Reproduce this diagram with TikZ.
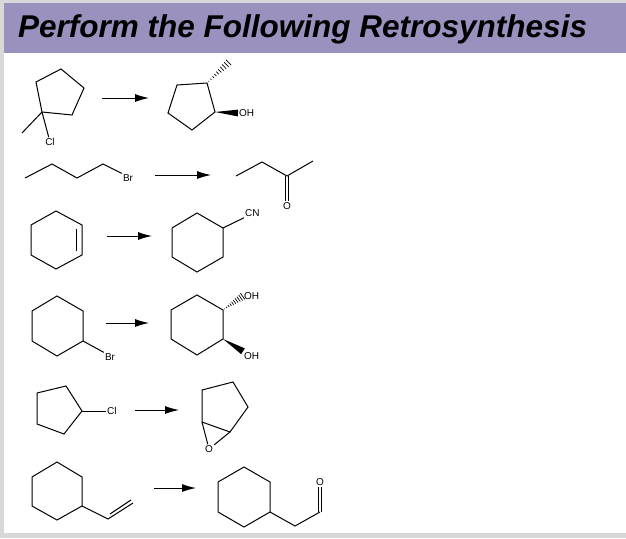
\documentclass[tikz,border=0pt]{standalone}
\usepackage{fontspec}
\setmainfont{Liberation Sans}
\setsansfont{Liberation Sans}
\usetikzlibrary{calc,arrows.meta}
\definecolor{hdr}{HTML}{9A91BF}
\definecolor{bgray}{HTML}{D8D8D8}
\tikzset{
 bond/.style={line width=1pt,line join=miter},
 rxn/.style={line width=1pt,-{Latex[length=14pt,width=8pt]}},
 atom/.style={font=\fontsize{10}{11}\selectfont,inner sep=1pt},
}
\newcommand{\hashb}[2]{\foreach \t in {0.08,0.18,...,1.0}{\draw[line width=0.7pt] ($(#1)!\t!(#2)!{\t*3.8pt}!90:(#2)$) -- ($(#1)!\t!(#2)!{\t*3.8pt}!-90:(#2)$);}}
\newcommand{\wedgeb}[2]{\fill (#1) -- ($(#2)!3.4pt!90:(#1)$) -- ($(#2)!3.4pt!-90:(#1)$) -- cycle;}
\begin{document}
\begin{tikzpicture}[x=1pt,y=-1pt]
\useasboundingbox (0,0) rectangle (626,538);
\fill[bgray] (0,0) rectangle (626,538);
\fill[white] (4,3) rectangle (626,533);
\fill[hdr] (4,3) rectangle (626,53);
\node[anchor=west,inner sep=0] (title) at (18,29) {\fontsize{31.5}{34}\selectfont\bfseries\itshape Perform the Following Retrosynthesis};

% Row 1
\draw[bond] (61,69)--(84,88)--(72,115)--(42,112)--(36,82)--cycle;
\draw[bond] (42,112)--(22,133);
\node[atom] (cl1) at (50,142) {Cl};
\draw[bond] (42,112)--(cl1);
\coordinate (a1s) at (102,98); \coordinate (a1e) at (149,98);
\draw[rxn] (a1s)--(a1e);
\draw[bond] (207,83)--(215,112)--(192,130)--(168,113)--(177,85)--cycle;
\coordinate (me1) at (229,62);
\hashb{207,83}{me1}
\node[atom,anchor=west] (oh1) at (238,113) {OH};
\wedgeb{215,112}{oh1.west}

% Row 2
\node[atom] (br2) at (128,178) {Br};
\draw[bond] (25,178)--(52,164)--(77,178)--(103,164)--(br2.north west);
\draw[rxn] (155,175)--(211,175);
\node[atom] (o2) at (287,206) {O};
\draw[bond] (236,176)--(262,162)--(287,176)--(313,161);
\draw[bond] ([xshift=-1.8pt]287,176)--([xshift=-1.8pt]o2.north);
\draw[bond] ([xshift=1.8pt]287,176)--([xshift=1.8pt]o2.north);

% Row 3
\draw[bond] (56,211)--(82,225)--(82,255)--(56,269)--(31,255)--(31,225)--cycle;
\draw[bond] (76,229)--(76,251);
\draw[rxn] (107,236)--(152,236);
\draw[bond] (197,213)--(223,228)--(223,257)--(197,272)--(172,257)--(172,228)--cycle;
\node[atom,anchor=west] (cn3) at (244,213) {CN};
\draw[bond] (223,228)--(cn3.south west);

% Row 4
\draw[bond] (57,296)--(83,311)--(83,341)--(57,356)--(32,341)--(32,311)--cycle;
\node[atom] (br4) at (110,357) {Br};
\draw[bond] (83,341)--(br4.north west);
\draw[rxn] (106,323)--(149,323);
\draw[bond] (197,295)--(223,310)--(223,339)--(197,355)--(171,339)--(171,310)--cycle;
\node[atom,anchor=west] (oh4a) at (243,296) {OH};
\hashb{223,310}{oh4a.west}
\node[atom,anchor=west] (oh4b) at (243,356) {OH};
\wedgeb{223,339}{oh4b.north west}

% Row 5
\draw[bond] (66,386)--(82,411)--(64,434)--(37,424)--(37,393)--cycle;
\node[atom,anchor=west] (cl5) at (106,411) {Cl};
\draw[bond] (82,411)--(cl5.west);
\draw[rxn] (135,410)--(179,410);
\draw[bond] (202,422)--(202,390)--(233,382)--(248,407)--(230,432)--cycle;
\node[atom] (o5) at (209,449) {O};
\draw[bond] (202,422)--(o5);
\draw[bond] (230,432)--(o5);

% Row 6
\draw[bond] (57,462)--(82,477)--(82,506)--(57,520)--(32,506)--(32,477)--cycle;
\draw[bond] (82,506)--(108,519)--(133,503);
\draw[bond] (110,514)--(131,500);
\draw[rxn] (154,488)--(196,488);
\draw[bond] (244,467)--(270,482)--(270,512)--(244,527)--(218,512)--(218,482)--cycle;
\node[atom] (o6) at (320,482) {O};
\draw[bond] (270,512)--(295,526)--(320,512);
\draw[bond] ([xshift=-1.8pt]320,512)--([xshift=-1.8pt]o6.south);
\draw[bond] ([xshift=1.8pt]320,512)--([xshift=1.8pt]o6.south);
\end{tikzpicture}
\end{document}
